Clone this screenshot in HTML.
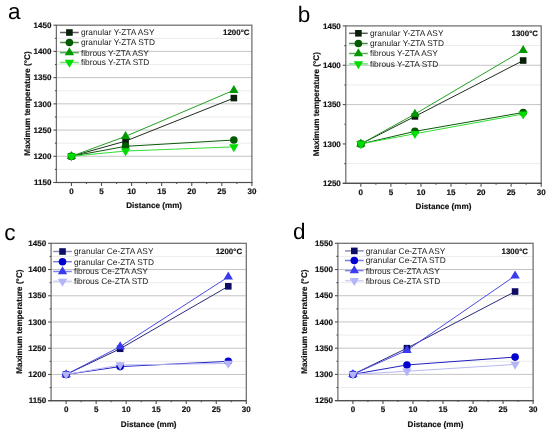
<!DOCTYPE html>
<html><head><meta charset="utf-8"><style>
html,body{margin:0;padding:0;background:#fff;width:550px;height:432px;overflow:hidden}
svg{display:block;filter:blur(0.3px)}
text{font-family:"Liberation Sans", sans-serif;fill:#111;text-rendering:geometricPrecision}
.tl{font-size:8px;font-weight:bold;stroke:#111;stroke-width:0.18px}
.tt{font-size:8.2px;font-weight:bold;stroke:#111;stroke-width:0.18px}
.xt{font-size:8.1px;font-weight:bold;stroke:#111;stroke-width:0.18px}
.tp{font-size:7.9px;font-weight:bold;stroke:#111;stroke-width:0.18px}
.lg{font-size:8.35px;fill:#222}
.pl{font-size:22.5px;fill:#000}
</style></head><body>
<svg width="550" height="432" viewBox="0 0 550 432">
<rect width="550" height="432" fill="#fff"/>
<line x1="56.4" y1="169.39" x2="251.9" y2="169.39" stroke="#ececec" stroke-width="1"/>
<line x1="56.4" y1="156.28" x2="251.9" y2="156.28" stroke="#c4c4c4" stroke-width="1"/>
<line x1="56.4" y1="143.18" x2="251.9" y2="143.18" stroke="#ececec" stroke-width="1"/>
<line x1="56.4" y1="130.07" x2="251.9" y2="130.07" stroke="#c4c4c4" stroke-width="1"/>
<line x1="56.4" y1="116.96" x2="251.9" y2="116.96" stroke="#ececec" stroke-width="1"/>
<line x1="56.4" y1="103.85" x2="251.9" y2="103.85" stroke="#c4c4c4" stroke-width="1"/>
<line x1="56.4" y1="90.74" x2="251.9" y2="90.74" stroke="#ececec" stroke-width="1"/>
<line x1="56.4" y1="77.63" x2="251.9" y2="77.63" stroke="#c4c4c4" stroke-width="1"/>
<line x1="56.4" y1="64.52" x2="251.9" y2="64.52" stroke="#ececec" stroke-width="1"/>
<line x1="56.4" y1="51.42" x2="251.9" y2="51.42" stroke="#c4c4c4" stroke-width="1"/>
<line x1="56.4" y1="38.31" x2="251.9" y2="38.31" stroke="#ececec" stroke-width="1"/>
<rect x="56.4" y="25.2" width="195.5" height="157.3" fill="none" stroke="#6e6e6e" stroke-width="1.25"/>
<line x1="53.4" y1="182.5" x2="252.5" y2="182.5" stroke="#505050" stroke-width="1.2"/>
<line x1="53.4" y1="182.50" x2="56.4" y2="182.50" stroke="#505050" stroke-width="1.1"/>
<text x="51.40" y="185.20" text-anchor="end" class="tl">1150</text>
<line x1="54.9" y1="169.39" x2="56.4" y2="169.39" stroke="#505050" stroke-width="1.1"/>
<line x1="53.4" y1="156.28" x2="56.4" y2="156.28" stroke="#505050" stroke-width="1.1"/>
<text x="51.40" y="158.98" text-anchor="end" class="tl">1200</text>
<line x1="54.9" y1="143.18" x2="56.4" y2="143.18" stroke="#505050" stroke-width="1.1"/>
<line x1="53.4" y1="130.07" x2="56.4" y2="130.07" stroke="#505050" stroke-width="1.1"/>
<text x="51.40" y="132.77" text-anchor="end" class="tl">1250</text>
<line x1="54.9" y1="116.96" x2="56.4" y2="116.96" stroke="#505050" stroke-width="1.1"/>
<line x1="53.4" y1="103.85" x2="56.4" y2="103.85" stroke="#505050" stroke-width="1.1"/>
<text x="51.40" y="106.55" text-anchor="end" class="tl">1300</text>
<line x1="54.9" y1="90.74" x2="56.4" y2="90.74" stroke="#505050" stroke-width="1.1"/>
<line x1="53.4" y1="77.63" x2="56.4" y2="77.63" stroke="#505050" stroke-width="1.1"/>
<text x="51.40" y="80.33" text-anchor="end" class="tl">1350</text>
<line x1="54.9" y1="64.52" x2="56.4" y2="64.52" stroke="#505050" stroke-width="1.1"/>
<line x1="53.4" y1="51.42" x2="56.4" y2="51.42" stroke="#505050" stroke-width="1.1"/>
<text x="51.40" y="54.12" text-anchor="end" class="tl">1400</text>
<line x1="54.9" y1="38.31" x2="56.4" y2="38.31" stroke="#505050" stroke-width="1.1"/>
<line x1="53.4" y1="25.20" x2="56.4" y2="25.20" stroke="#505050" stroke-width="1.1"/>
<text x="51.40" y="27.90" text-anchor="end" class="tl">1450</text>
<line x1="71.44" y1="182.5" x2="71.44" y2="185.9" stroke="#505050" stroke-width="1.1"/>
<text x="71.44" y="193.80" text-anchor="middle" class="tl">0</text>
<line x1="86.48" y1="182.5" x2="86.48" y2="184.0" stroke="#505050" stroke-width="1.1"/>
<line x1="101.52" y1="182.5" x2="101.52" y2="185.9" stroke="#505050" stroke-width="1.1"/>
<text x="101.52" y="193.80" text-anchor="middle" class="tl">5</text>
<line x1="116.55" y1="182.5" x2="116.55" y2="184.0" stroke="#505050" stroke-width="1.1"/>
<line x1="131.59" y1="182.5" x2="131.59" y2="185.9" stroke="#505050" stroke-width="1.1"/>
<text x="131.59" y="193.80" text-anchor="middle" class="tl">10</text>
<line x1="146.63" y1="182.5" x2="146.63" y2="184.0" stroke="#505050" stroke-width="1.1"/>
<line x1="161.67" y1="182.5" x2="161.67" y2="185.9" stroke="#505050" stroke-width="1.1"/>
<text x="161.67" y="193.80" text-anchor="middle" class="tl">15</text>
<line x1="176.71" y1="182.5" x2="176.71" y2="184.0" stroke="#505050" stroke-width="1.1"/>
<line x1="191.75" y1="182.5" x2="191.75" y2="185.9" stroke="#505050" stroke-width="1.1"/>
<text x="191.75" y="193.80" text-anchor="middle" class="tl">20</text>
<line x1="206.78" y1="182.5" x2="206.78" y2="184.0" stroke="#505050" stroke-width="1.1"/>
<line x1="221.82" y1="182.5" x2="221.82" y2="185.9" stroke="#505050" stroke-width="1.1"/>
<text x="221.82" y="193.80" text-anchor="middle" class="tl">25</text>
<line x1="236.86" y1="182.5" x2="236.86" y2="184.0" stroke="#505050" stroke-width="1.1"/>
<line x1="251.90" y1="182.5" x2="251.90" y2="185.9" stroke="#505050" stroke-width="1.1"/>
<text x="251.90" y="193.80" text-anchor="middle" class="tl">30</text>
<text x="154.15" y="208.40" text-anchor="middle" class="xt">Distance (mm)</text>
<text x="29.50" y="103.50" text-anchor="middle" class="tt" transform="rotate(-90 29.50 103.50)">Maximum temperature (°C)</text>
<text x="249.50" y="35.30" text-anchor="end" class="tp">1200°C</text>
<polyline points="71.44,156.28 125.58,141.08 233.85,98.08" fill="none" stroke="#1e2e1e" stroke-width="1"/>
<polyline points="71.44,156.28 125.58,146.32 233.85,140.03" fill="none" stroke="#0a5a0a" stroke-width="1"/>
<polyline points="71.44,156.28 125.58,136.36 233.85,90.22" fill="none" stroke="#22a022" stroke-width="1"/>
<polyline points="71.44,156.28 125.58,151.04 233.85,146.85" fill="none" stroke="#33dd33" stroke-width="1"/>
<rect x="68.14" y="152.98" width="6.6" height="6.6" fill="#0b200b"/>
<rect x="122.28" y="137.78" width="6.6" height="6.6" fill="#0b200b"/>
<rect x="230.55" y="94.78" width="6.6" height="6.6" fill="#0b200b"/>
<circle cx="71.44" cy="156.28" r="3.8" fill="#005a00"/>
<circle cx="125.58" cy="146.32" r="3.8" fill="#005a00"/>
<circle cx="233.85" cy="140.03" r="3.8" fill="#005a00"/>
<polygon points="66.74,158.95 76.14,158.95 71.44,150.95" fill="#009a00"/>
<polygon points="120.88,139.03 130.28,139.03 125.58,131.03" fill="#009a00"/>
<polygon points="229.15,92.88 238.55,92.88 233.85,84.88" fill="#009a00"/>
<polygon points="66.74,153.62 76.14,153.62 71.44,161.62" fill="#00dd00"/>
<polygon points="120.88,148.37 130.28,148.37 125.58,156.37" fill="#00dd00"/>
<polygon points="229.15,144.18 238.55,144.18 233.85,152.18" fill="#00dd00"/>
<line x1="60.10" y1="32.50" x2="78.70" y2="32.50" stroke="#5a5e5a" stroke-width="1.5"/>
<rect x="66.10" y="29.20" width="6.6" height="6.6" fill="#0b200b"/>
<text x="80.90" y="35.40" class="lg">granular Y-ZTA ASY</text>
<line x1="60.10" y1="42.50" x2="78.70" y2="42.50" stroke="#4e8a4e" stroke-width="1.5"/>
<circle cx="69.40" cy="42.50" r="3.8" fill="#005a00"/>
<text x="80.90" y="45.40" class="lg">granular Y-ZTA STD</text>
<line x1="60.10" y1="52.70" x2="78.70" y2="52.70" stroke="#50b050" stroke-width="1.5"/>
<polygon points="64.70,55.37 74.10,55.37 69.40,47.37" fill="#009a00"/>
<text x="80.90" y="55.60" class="lg">fibrous Y-ZTA ASY</text>
<line x1="60.10" y1="62.50" x2="78.70" y2="62.50" stroke="#70dd70" stroke-width="1.5"/>
<polygon points="64.70,59.83 74.10,59.83 69.40,67.83" fill="#00dd00"/>
<text x="80.90" y="65.40" class="lg">fibrous Y-ZTA STD</text>
<text x="8.0" y="18.5" class="pl">a</text>
<line x1="345.8" y1="163.62" x2="541.2" y2="163.62" stroke="#ececec" stroke-width="1"/>
<line x1="345.8" y1="104.60" x2="541.2" y2="104.60" stroke="#c4c4c4" stroke-width="1"/>
<line x1="345.8" y1="84.93" x2="541.2" y2="84.93" stroke="#ececec" stroke-width="1"/>
<line x1="345.8" y1="65.25" x2="541.2" y2="65.25" stroke="#c4c4c4" stroke-width="1"/>
<line x1="345.8" y1="45.58" x2="541.2" y2="45.58" stroke="#ececec" stroke-width="1"/>
<rect x="345.8" y="25.9" width="195.4" height="157.4" fill="none" stroke="#6e6e6e" stroke-width="1.25"/>
<line x1="342.8" y1="183.3" x2="541.8000000000001" y2="183.3" stroke="#505050" stroke-width="1.2"/>
<line x1="342.8" y1="183.30" x2="345.8" y2="183.30" stroke="#505050" stroke-width="1.1"/>
<text x="340.80" y="186.00" text-anchor="end" class="tl">1250</text>
<line x1="344.3" y1="163.62" x2="345.8" y2="163.62" stroke="#505050" stroke-width="1.1"/>
<line x1="342.8" y1="143.95" x2="345.8" y2="143.95" stroke="#505050" stroke-width="1.1"/>
<text x="340.80" y="146.65" text-anchor="end" class="tl">1300</text>
<line x1="344.3" y1="124.28" x2="345.8" y2="124.28" stroke="#505050" stroke-width="1.1"/>
<line x1="342.8" y1="104.60" x2="345.8" y2="104.60" stroke="#505050" stroke-width="1.1"/>
<text x="340.80" y="107.30" text-anchor="end" class="tl">1350</text>
<line x1="344.3" y1="84.93" x2="345.8" y2="84.93" stroke="#505050" stroke-width="1.1"/>
<line x1="342.8" y1="65.25" x2="345.8" y2="65.25" stroke="#505050" stroke-width="1.1"/>
<text x="340.80" y="67.95" text-anchor="end" class="tl">1400</text>
<line x1="344.3" y1="45.58" x2="345.8" y2="45.58" stroke="#505050" stroke-width="1.1"/>
<line x1="342.8" y1="25.90" x2="345.8" y2="25.90" stroke="#505050" stroke-width="1.1"/>
<text x="340.80" y="28.60" text-anchor="end" class="tl">1450</text>
<line x1="360.83" y1="183.3" x2="360.83" y2="186.70000000000002" stroke="#505050" stroke-width="1.1"/>
<text x="360.83" y="194.60" text-anchor="middle" class="tl">0</text>
<line x1="375.86" y1="183.3" x2="375.86" y2="184.8" stroke="#505050" stroke-width="1.1"/>
<line x1="390.89" y1="183.3" x2="390.89" y2="186.70000000000002" stroke="#505050" stroke-width="1.1"/>
<text x="390.89" y="194.60" text-anchor="middle" class="tl">5</text>
<line x1="405.92" y1="183.3" x2="405.92" y2="184.8" stroke="#505050" stroke-width="1.1"/>
<line x1="420.95" y1="183.3" x2="420.95" y2="186.70000000000002" stroke="#505050" stroke-width="1.1"/>
<text x="420.95" y="194.60" text-anchor="middle" class="tl">10</text>
<line x1="435.98" y1="183.3" x2="435.98" y2="184.8" stroke="#505050" stroke-width="1.1"/>
<line x1="451.02" y1="183.3" x2="451.02" y2="186.70000000000002" stroke="#505050" stroke-width="1.1"/>
<text x="451.02" y="194.60" text-anchor="middle" class="tl">15</text>
<line x1="466.05" y1="183.3" x2="466.05" y2="184.8" stroke="#505050" stroke-width="1.1"/>
<line x1="481.08" y1="183.3" x2="481.08" y2="186.70000000000002" stroke="#505050" stroke-width="1.1"/>
<text x="481.08" y="194.60" text-anchor="middle" class="tl">20</text>
<line x1="496.11" y1="183.3" x2="496.11" y2="184.8" stroke="#505050" stroke-width="1.1"/>
<line x1="511.14" y1="183.3" x2="511.14" y2="186.70000000000002" stroke="#505050" stroke-width="1.1"/>
<text x="511.14" y="194.60" text-anchor="middle" class="tl">25</text>
<line x1="526.17" y1="183.3" x2="526.17" y2="184.8" stroke="#505050" stroke-width="1.1"/>
<line x1="541.20" y1="183.3" x2="541.20" y2="186.70000000000002" stroke="#505050" stroke-width="1.1"/>
<text x="541.20" y="194.60" text-anchor="middle" class="tl">30</text>
<text x="443.50" y="209.20" text-anchor="middle" class="xt">Distance (mm)</text>
<text x="319.40" y="104.20" text-anchor="middle" class="tt" transform="rotate(-90 319.40 104.20)">Maximum temperature (°C)</text>
<text x="538.00" y="36.00" text-anchor="end" class="tp">1300°C</text>
<polyline points="360.83,143.95 414.94,116.41 523.16,60.53" fill="none" stroke="#1e2e1e" stroke-width="1"/>
<polyline points="360.83,143.95 414.94,131.36 523.16,112.47" fill="none" stroke="#0a5a0a" stroke-width="1"/>
<polyline points="360.83,143.95 414.94,114.04 523.16,50.30" fill="none" stroke="#22a022" stroke-width="1"/>
<polyline points="360.83,143.95 414.94,133.72 523.16,114.04" fill="none" stroke="#33dd33" stroke-width="1"/>
<rect x="357.53" y="140.65" width="6.6" height="6.6" fill="#0b200b"/>
<rect x="411.64" y="113.11" width="6.6" height="6.6" fill="#0b200b"/>
<rect x="519.86" y="57.23" width="6.6" height="6.6" fill="#0b200b"/>
<circle cx="360.83" cy="143.95" r="3.8" fill="#005a00"/>
<circle cx="414.94" cy="131.36" r="3.8" fill="#005a00"/>
<circle cx="523.16" cy="112.47" r="3.8" fill="#005a00"/>
<polygon points="356.13,146.62 365.53,146.62 360.83,138.62" fill="#009a00"/>
<polygon points="410.24,116.71 419.64,116.71 414.94,108.71" fill="#009a00"/>
<polygon points="518.46,52.96 527.86,52.96 523.16,44.96" fill="#009a00"/>
<polygon points="356.13,141.28 365.53,141.28 360.83,149.28" fill="#00dd00"/>
<polygon points="410.24,131.05 419.64,131.05 414.94,139.05" fill="#00dd00"/>
<polygon points="518.46,111.38 527.86,111.38 523.16,119.38" fill="#00dd00"/>
<line x1="349.10" y1="33.30" x2="367.70" y2="33.30" stroke="#5a5e5a" stroke-width="1.5"/>
<rect x="355.10" y="30.00" width="6.6" height="6.6" fill="#0b200b"/>
<text x="369.90" y="36.20" class="lg">granular Y-ZTA ASY</text>
<line x1="349.10" y1="43.50" x2="367.70" y2="43.50" stroke="#4e8a4e" stroke-width="1.5"/>
<circle cx="358.40" cy="43.50" r="3.8" fill="#005a00"/>
<text x="369.90" y="46.40" class="lg">granular Y-ZTA STD</text>
<line x1="349.10" y1="53.50" x2="367.70" y2="53.50" stroke="#50b050" stroke-width="1.5"/>
<polygon points="353.70,56.17 363.10,56.17 358.40,48.17" fill="#009a00"/>
<text x="369.90" y="56.40" class="lg">fibrous Y-ZTA ASY</text>
<line x1="349.10" y1="63.90" x2="367.70" y2="63.90" stroke="#70dd70" stroke-width="1.5"/>
<polygon points="353.70,61.23 363.10,61.23 358.40,69.23" fill="#00dd00"/>
<text x="369.90" y="66.80" class="lg">fibrous Y-ZTA STD</text>
<text x="297.8" y="21.5" class="pl">b</text>
<line x1="51.1" y1="387.58" x2="246.29999999999998" y2="387.58" stroke="#ececec" stroke-width="1"/>
<line x1="51.1" y1="374.47" x2="246.29999999999998" y2="374.47" stroke="#c4c4c4" stroke-width="1"/>
<line x1="51.1" y1="361.35" x2="246.29999999999998" y2="361.35" stroke="#ececec" stroke-width="1"/>
<line x1="51.1" y1="348.23" x2="246.29999999999998" y2="348.23" stroke="#c4c4c4" stroke-width="1"/>
<line x1="51.1" y1="335.12" x2="246.29999999999998" y2="335.12" stroke="#ececec" stroke-width="1"/>
<line x1="51.1" y1="322.00" x2="246.29999999999998" y2="322.00" stroke="#c4c4c4" stroke-width="1"/>
<line x1="51.1" y1="308.88" x2="246.29999999999998" y2="308.88" stroke="#ececec" stroke-width="1"/>
<line x1="51.1" y1="295.77" x2="246.29999999999998" y2="295.77" stroke="#c4c4c4" stroke-width="1"/>
<line x1="51.1" y1="282.65" x2="246.29999999999998" y2="282.65" stroke="#ececec" stroke-width="1"/>
<line x1="51.1" y1="269.53" x2="246.29999999999998" y2="269.53" stroke="#c4c4c4" stroke-width="1"/>
<line x1="51.1" y1="256.42" x2="246.29999999999998" y2="256.42" stroke="#ececec" stroke-width="1"/>
<rect x="51.1" y="243.3" width="195.2" height="157.4" fill="none" stroke="#6e6e6e" stroke-width="1.25"/>
<line x1="48.1" y1="400.70000000000005" x2="246.89999999999998" y2="400.70000000000005" stroke="#505050" stroke-width="1.2"/>
<line x1="48.1" y1="400.70" x2="51.1" y2="400.70" stroke="#505050" stroke-width="1.1"/>
<text x="46.10" y="403.40" text-anchor="end" class="tl">1150</text>
<line x1="49.6" y1="387.58" x2="51.1" y2="387.58" stroke="#505050" stroke-width="1.1"/>
<line x1="48.1" y1="374.47" x2="51.1" y2="374.47" stroke="#505050" stroke-width="1.1"/>
<text x="46.10" y="377.17" text-anchor="end" class="tl">1200</text>
<line x1="49.6" y1="361.35" x2="51.1" y2="361.35" stroke="#505050" stroke-width="1.1"/>
<line x1="48.1" y1="348.23" x2="51.1" y2="348.23" stroke="#505050" stroke-width="1.1"/>
<text x="46.10" y="350.93" text-anchor="end" class="tl">1250</text>
<line x1="49.6" y1="335.12" x2="51.1" y2="335.12" stroke="#505050" stroke-width="1.1"/>
<line x1="48.1" y1="322.00" x2="51.1" y2="322.00" stroke="#505050" stroke-width="1.1"/>
<text x="46.10" y="324.70" text-anchor="end" class="tl">1300</text>
<line x1="49.6" y1="308.88" x2="51.1" y2="308.88" stroke="#505050" stroke-width="1.1"/>
<line x1="48.1" y1="295.77" x2="51.1" y2="295.77" stroke="#505050" stroke-width="1.1"/>
<text x="46.10" y="298.47" text-anchor="end" class="tl">1350</text>
<line x1="49.6" y1="282.65" x2="51.1" y2="282.65" stroke="#505050" stroke-width="1.1"/>
<line x1="48.1" y1="269.53" x2="51.1" y2="269.53" stroke="#505050" stroke-width="1.1"/>
<text x="46.10" y="272.23" text-anchor="end" class="tl">1400</text>
<line x1="49.6" y1="256.42" x2="51.1" y2="256.42" stroke="#505050" stroke-width="1.1"/>
<line x1="48.1" y1="243.30" x2="51.1" y2="243.30" stroke="#505050" stroke-width="1.1"/>
<text x="46.10" y="246.00" text-anchor="end" class="tl">1450</text>
<line x1="66.12" y1="400.70000000000005" x2="66.12" y2="404.1" stroke="#505050" stroke-width="1.1"/>
<text x="66.12" y="412.00" text-anchor="middle" class="tl">0</text>
<line x1="81.13" y1="400.70000000000005" x2="81.13" y2="402.20000000000005" stroke="#505050" stroke-width="1.1"/>
<line x1="96.15" y1="400.70000000000005" x2="96.15" y2="404.1" stroke="#505050" stroke-width="1.1"/>
<text x="96.15" y="412.00" text-anchor="middle" class="tl">5</text>
<line x1="111.16" y1="400.70000000000005" x2="111.16" y2="402.20000000000005" stroke="#505050" stroke-width="1.1"/>
<line x1="126.18" y1="400.70000000000005" x2="126.18" y2="404.1" stroke="#505050" stroke-width="1.1"/>
<text x="126.18" y="412.00" text-anchor="middle" class="tl">10</text>
<line x1="141.19" y1="400.70000000000005" x2="141.19" y2="402.20000000000005" stroke="#505050" stroke-width="1.1"/>
<line x1="156.21" y1="400.70000000000005" x2="156.21" y2="404.1" stroke="#505050" stroke-width="1.1"/>
<text x="156.21" y="412.00" text-anchor="middle" class="tl">15</text>
<line x1="171.22" y1="400.70000000000005" x2="171.22" y2="402.20000000000005" stroke="#505050" stroke-width="1.1"/>
<line x1="186.24" y1="400.70000000000005" x2="186.24" y2="404.1" stroke="#505050" stroke-width="1.1"/>
<text x="186.24" y="412.00" text-anchor="middle" class="tl">20</text>
<line x1="201.25" y1="400.70000000000005" x2="201.25" y2="402.20000000000005" stroke="#505050" stroke-width="1.1"/>
<line x1="216.27" y1="400.70000000000005" x2="216.27" y2="404.1" stroke="#505050" stroke-width="1.1"/>
<text x="216.27" y="412.00" text-anchor="middle" class="tl">25</text>
<line x1="231.28" y1="400.70000000000005" x2="231.28" y2="402.20000000000005" stroke="#505050" stroke-width="1.1"/>
<line x1="246.30" y1="400.70000000000005" x2="246.30" y2="404.1" stroke="#505050" stroke-width="1.1"/>
<text x="246.30" y="412.00" text-anchor="middle" class="tl">30</text>
<text x="148.70" y="426.60" text-anchor="middle" class="xt">Distance (mm)</text>
<text x="21.70" y="321.60" text-anchor="middle" class="tt" transform="rotate(-90 21.70 321.60)">Maximum temperature (°C)</text>
<text x="242.10" y="254.40" text-anchor="end" class="tp">1200°C</text>
<polyline points="66.12,374.47 120.17,348.76 228.28,286.32" fill="none" stroke="#2a2a78" stroke-width="1"/>
<polyline points="66.12,374.47 120.17,366.60 228.28,361.35" fill="none" stroke="#2020c0" stroke-width="1"/>
<polyline points="66.12,374.47 120.17,346.66 228.28,276.88" fill="none" stroke="#4a4ae8" stroke-width="1"/>
<polyline points="66.12,374.47 120.17,365.02 228.28,363.45" fill="none" stroke="#b8b8f4" stroke-width="1"/>
<rect x="62.82" y="371.17" width="6.6" height="6.6" fill="#0d0d66"/>
<rect x="116.87" y="345.46" width="6.6" height="6.6" fill="#0d0d66"/>
<rect x="224.98" y="283.02" width="6.6" height="6.6" fill="#0d0d66"/>
<circle cx="66.12" cy="374.47" r="3.8" fill="#0000d0"/>
<circle cx="120.17" cy="366.60" r="3.8" fill="#0000d0"/>
<circle cx="228.28" cy="361.35" r="3.8" fill="#0000d0"/>
<polygon points="61.42,377.13 70.82,377.13 66.12,369.13" fill="#3a3af0"/>
<polygon points="115.47,349.33 124.87,349.33 120.17,341.33" fill="#3a3af0"/>
<polygon points="223.58,279.55 232.98,279.55 228.28,271.55" fill="#3a3af0"/>
<polygon points="61.42,371.80 70.82,371.80 66.12,379.80" fill="#b4b4f8"/>
<polygon points="115.47,362.36 124.87,362.36 120.17,370.36" fill="#b4b4f8"/>
<polygon points="223.58,360.78 232.98,360.78 228.28,368.78" fill="#b4b4f8"/>
<line x1="53.20" y1="251.50" x2="71.80" y2="251.50" stroke="#8e8eb8" stroke-width="1.5"/>
<rect x="59.20" y="248.20" width="6.6" height="6.6" fill="#0d0d66"/>
<text x="73.90" y="254.40" class="lg">granular Ce-ZTA ASY</text>
<line x1="53.20" y1="261.70" x2="71.80" y2="261.70" stroke="#7c7cdc" stroke-width="1.5"/>
<circle cx="62.50" cy="261.70" r="3.8" fill="#0000d0"/>
<text x="73.90" y="264.60" class="lg">granular Ce-ZTA STD</text>
<line x1="53.20" y1="271.50" x2="71.80" y2="271.50" stroke="#8080f2" stroke-width="1.5"/>
<polygon points="57.80,274.17 67.20,274.17 62.50,266.17" fill="#3a3af0"/>
<text x="73.90" y="274.40" class="lg">fibrous Ce-ZTA ASY</text>
<line x1="53.20" y1="281.30" x2="71.80" y2="281.30" stroke="#d0d0f8" stroke-width="1.5"/>
<polygon points="57.80,278.63 67.20,278.63 62.50,286.63" fill="#b4b4f8"/>
<text x="73.90" y="284.20" class="lg">fibrous Ce-ZTA STD</text>
<text x="4.2" y="239.5" class="pl">c</text>
<line x1="337.9" y1="387.49" x2="533.0999999999999" y2="387.49" stroke="#ececec" stroke-width="1"/>
<line x1="337.9" y1="374.38" x2="533.0999999999999" y2="374.38" stroke="#c4c4c4" stroke-width="1"/>
<line x1="337.9" y1="361.28" x2="533.0999999999999" y2="361.28" stroke="#ececec" stroke-width="1"/>
<line x1="337.9" y1="348.17" x2="533.0999999999999" y2="348.17" stroke="#c4c4c4" stroke-width="1"/>
<line x1="337.9" y1="335.06" x2="533.0999999999999" y2="335.06" stroke="#ececec" stroke-width="1"/>
<line x1="337.9" y1="321.95" x2="533.0999999999999" y2="321.95" stroke="#c4c4c4" stroke-width="1"/>
<line x1="337.9" y1="308.84" x2="533.0999999999999" y2="308.84" stroke="#ececec" stroke-width="1"/>
<line x1="337.9" y1="295.73" x2="533.0999999999999" y2="295.73" stroke="#c4c4c4" stroke-width="1"/>
<line x1="337.9" y1="282.62" x2="533.0999999999999" y2="282.62" stroke="#ececec" stroke-width="1"/>
<line x1="337.9" y1="269.52" x2="533.0999999999999" y2="269.52" stroke="#c4c4c4" stroke-width="1"/>
<line x1="337.9" y1="256.41" x2="533.0999999999999" y2="256.41" stroke="#ececec" stroke-width="1"/>
<rect x="337.9" y="243.3" width="195.2" height="157.3" fill="none" stroke="#6e6e6e" stroke-width="1.25"/>
<line x1="334.9" y1="400.6" x2="533.6999999999999" y2="400.6" stroke="#505050" stroke-width="1.2"/>
<line x1="334.9" y1="400.60" x2="337.9" y2="400.60" stroke="#505050" stroke-width="1.1"/>
<text x="332.90" y="403.30" text-anchor="end" class="tl">1250</text>
<line x1="336.4" y1="387.49" x2="337.9" y2="387.49" stroke="#505050" stroke-width="1.1"/>
<line x1="334.9" y1="374.38" x2="337.9" y2="374.38" stroke="#505050" stroke-width="1.1"/>
<text x="332.90" y="377.08" text-anchor="end" class="tl">1300</text>
<line x1="336.4" y1="361.28" x2="337.9" y2="361.28" stroke="#505050" stroke-width="1.1"/>
<line x1="334.9" y1="348.17" x2="337.9" y2="348.17" stroke="#505050" stroke-width="1.1"/>
<text x="332.90" y="350.87" text-anchor="end" class="tl">1350</text>
<line x1="336.4" y1="335.06" x2="337.9" y2="335.06" stroke="#505050" stroke-width="1.1"/>
<line x1="334.9" y1="321.95" x2="337.9" y2="321.95" stroke="#505050" stroke-width="1.1"/>
<text x="332.90" y="324.65" text-anchor="end" class="tl">1400</text>
<line x1="336.4" y1="308.84" x2="337.9" y2="308.84" stroke="#505050" stroke-width="1.1"/>
<line x1="334.9" y1="295.73" x2="337.9" y2="295.73" stroke="#505050" stroke-width="1.1"/>
<text x="332.90" y="298.43" text-anchor="end" class="tl">1450</text>
<line x1="336.4" y1="282.62" x2="337.9" y2="282.62" stroke="#505050" stroke-width="1.1"/>
<line x1="334.9" y1="269.52" x2="337.9" y2="269.52" stroke="#505050" stroke-width="1.1"/>
<text x="332.90" y="272.22" text-anchor="end" class="tl">1500</text>
<line x1="336.4" y1="256.41" x2="337.9" y2="256.41" stroke="#505050" stroke-width="1.1"/>
<line x1="334.9" y1="243.30" x2="337.9" y2="243.30" stroke="#505050" stroke-width="1.1"/>
<text x="332.90" y="246.00" text-anchor="end" class="tl">1550</text>
<line x1="352.92" y1="400.6" x2="352.92" y2="404.0" stroke="#505050" stroke-width="1.1"/>
<text x="352.92" y="411.90" text-anchor="middle" class="tl">0</text>
<line x1="367.93" y1="400.6" x2="367.93" y2="402.1" stroke="#505050" stroke-width="1.1"/>
<line x1="382.95" y1="400.6" x2="382.95" y2="404.0" stroke="#505050" stroke-width="1.1"/>
<text x="382.95" y="411.90" text-anchor="middle" class="tl">5</text>
<line x1="397.96" y1="400.6" x2="397.96" y2="402.1" stroke="#505050" stroke-width="1.1"/>
<line x1="412.98" y1="400.6" x2="412.98" y2="404.0" stroke="#505050" stroke-width="1.1"/>
<text x="412.98" y="411.90" text-anchor="middle" class="tl">10</text>
<line x1="427.99" y1="400.6" x2="427.99" y2="402.1" stroke="#505050" stroke-width="1.1"/>
<line x1="443.01" y1="400.6" x2="443.01" y2="404.0" stroke="#505050" stroke-width="1.1"/>
<text x="443.01" y="411.90" text-anchor="middle" class="tl">15</text>
<line x1="458.02" y1="400.6" x2="458.02" y2="402.1" stroke="#505050" stroke-width="1.1"/>
<line x1="473.04" y1="400.6" x2="473.04" y2="404.0" stroke="#505050" stroke-width="1.1"/>
<text x="473.04" y="411.90" text-anchor="middle" class="tl">20</text>
<line x1="488.05" y1="400.6" x2="488.05" y2="402.1" stroke="#505050" stroke-width="1.1"/>
<line x1="503.07" y1="400.6" x2="503.07" y2="404.0" stroke="#505050" stroke-width="1.1"/>
<text x="503.07" y="411.90" text-anchor="middle" class="tl">25</text>
<line x1="518.08" y1="400.6" x2="518.08" y2="402.1" stroke="#505050" stroke-width="1.1"/>
<line x1="533.10" y1="400.6" x2="533.10" y2="404.0" stroke="#505050" stroke-width="1.1"/>
<text x="533.10" y="411.90" text-anchor="middle" class="tl">30</text>
<text x="435.50" y="426.50" text-anchor="middle" class="xt">Distance (mm)</text>
<text x="306.90" y="321.60" text-anchor="middle" class="tt" transform="rotate(-90 306.90 321.60)">Maximum temperature (°C)</text>
<text x="528.00" y="253.90" text-anchor="end" class="tp">1300°C</text>
<polyline points="352.92,374.38 406.97,348.17 515.08,291.54" fill="none" stroke="#2a2a78" stroke-width="1"/>
<polyline points="352.92,374.38 406.97,364.95 515.08,357.08" fill="none" stroke="#2020c0" stroke-width="1"/>
<polyline points="352.92,374.38 406.97,350.26 515.08,275.81" fill="none" stroke="#4a4ae8" stroke-width="1"/>
<polyline points="352.92,374.38 406.97,371.24 515.08,364.42" fill="none" stroke="#b8b8f4" stroke-width="1"/>
<rect x="349.62" y="371.08" width="6.6" height="6.6" fill="#0d0d66"/>
<rect x="403.67" y="344.87" width="6.6" height="6.6" fill="#0d0d66"/>
<rect x="511.78" y="288.24" width="6.6" height="6.6" fill="#0d0d66"/>
<circle cx="352.92" cy="374.38" r="3.8" fill="#0000d0"/>
<circle cx="406.97" cy="364.95" r="3.8" fill="#0000d0"/>
<circle cx="515.08" cy="357.08" r="3.8" fill="#0000d0"/>
<polygon points="348.22,377.05 357.62,377.05 352.92,369.05" fill="#3a3af0"/>
<polygon points="402.27,352.93 411.67,352.93 406.97,344.93" fill="#3a3af0"/>
<polygon points="510.38,278.48 519.78,278.48 515.08,270.48" fill="#3a3af0"/>
<polygon points="348.22,371.72 357.62,371.72 352.92,379.72" fill="#b4b4f8"/>
<polygon points="402.27,368.57 411.67,368.57 406.97,376.57" fill="#b4b4f8"/>
<polygon points="510.38,361.75 519.78,361.75 515.08,369.75" fill="#b4b4f8"/>
<line x1="345.00" y1="250.90" x2="363.60" y2="250.90" stroke="#8e8eb8" stroke-width="1.5"/>
<rect x="351.00" y="247.60" width="6.6" height="6.6" fill="#0d0d66"/>
<text x="365.70" y="253.80" class="lg">granular Ce-ZTA ASY</text>
<line x1="345.00" y1="260.50" x2="363.60" y2="260.50" stroke="#7c7cdc" stroke-width="1.5"/>
<circle cx="354.30" cy="260.50" r="3.8" fill="#0000d0"/>
<text x="365.70" y="263.40" class="lg">granular Ce-ZTA STD</text>
<line x1="345.00" y1="270.60" x2="363.60" y2="270.60" stroke="#8080f2" stroke-width="1.5"/>
<polygon points="349.60,273.27 359.00,273.27 354.30,265.27" fill="#3a3af0"/>
<text x="365.70" y="273.50" class="lg">fibrous Ce-ZTA ASY</text>
<line x1="345.00" y1="280.70" x2="363.60" y2="280.70" stroke="#d0d0f8" stroke-width="1.5"/>
<polygon points="349.60,278.03 359.00,278.03 354.30,286.03" fill="#b4b4f8"/>
<text x="365.70" y="283.60" class="lg">fibrous Ce-ZTA STD</text>
<text x="292.9" y="238.9" class="pl">d</text>
</svg>
</body></html>
